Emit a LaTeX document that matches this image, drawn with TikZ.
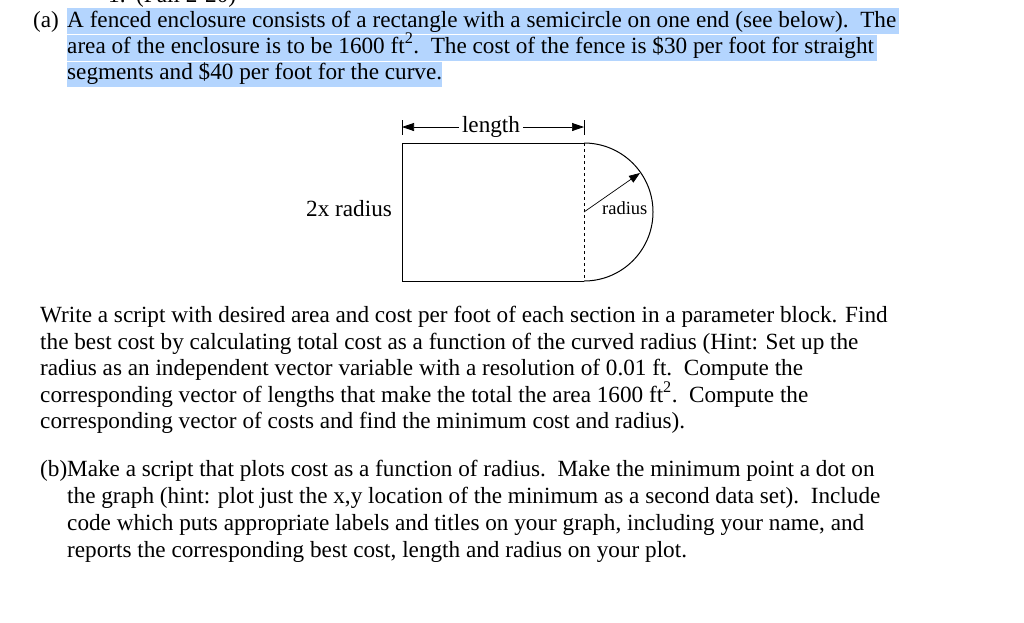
\documentclass[tikz,border=0pt]{standalone}
\usepackage{fontspec}
\setmainfont{Liberation Serif}
\usetikzlibrary{arrows.meta}
\begin{document}
\begin{tikzpicture}[x=1pt,y=-1pt,
  txt/.style={anchor=base west,inner sep=0pt,font=\fontsize{23.2}{26}\selectfont}]
\useasboundingbox (0,0) rectangle (1024,622);
\fill[color={rgb,255:red,180;green,213;blue,254}] (67,8) rectangle (899,34);
\fill[color={rgb,255:red,180;green,213;blue,254}] (67,35) rectangle (877,61);
\fill[color={rgb,255:red,180;green,213;blue,254}] (67,62) rectangle (442,87);
\begin{scope}
\clip (0,0) rectangle (1024,622);
\node[txt] (t0) at (108,2) {1.};
\node[txt] (t0b) at (136,2) {(Fall 2-20)};
\end{scope}
\node[txt] (a) at (33,27) {(a)};
\node[txt] (a1) at (67,27) {A fenced enclosure consists of a rectangle with a semicircle on one end (see below).\ \ The};
\node[txt] (a2) at (67,53) {area of the enclosure is to be 1600 ft\textsuperscript{2}.\ \ The cost of the fence is \$30 per foot for straight};
\node[txt] (a3) at (67,79) {segments and \$40 per foot for the curve.};
\node[txt] (p1) at (40,322) {Write a script with desired area and cost per foot of each section in a parameter block. Find};
\node[txt] (p2) at (40,349) {the best cost by calculating total cost as a function of the curved radius (Hint: Set up the};
\node[txt] (p3) at (40,375) {radius as an independent vector variable with a resolution of 0.01 ft.\ \ Compute the};
\node[txt] (p4) at (40,402) {corresponding vector of lengths that make the total the area 1600 ft\textsuperscript{2}.\ \ Compute the};
\node[txt] (p5) at (40,428) {corresponding vector of costs and find the minimum cost and radius).};
\node[txt] (b) at (40,476) {(b)};
\node[txt] (b1) at (67,476) {Make a script that plots cost as a function of radius.\ \ Make the minimum point a dot on};
\node[txt] (b2) at (67,503) {the graph (hint: plot just the x,y location of the minimum as a second data set).\ \ Include};
\node[txt] (b3) at (67,530) {code which puts appropriate labels and titles on your graph, including your name, and};
\node[txt] (b4) at (67,557) {reports the corresponding best cost, length and radius on your plot.};
% diagram
\coordinate (tl) at (402,143); \coordinate (br) at (584,281);
\coordinate (tr) at (584,143); \coordinate (bl) at (402,281);
\coordinate (c) at (584,212);
\coordinate (ap) at (640,173);
\draw[line width=1pt] (tr) -- (tl) -- (bl) -- (br);
\draw[line width=1pt] (tr) arc[start angle=-90,end angle=90,radius=69];
\draw[dashed,line width=0.7pt] (tr) -- (br);
\draw[line width=0.7pt,-{Triangle[length=11pt,width=8pt]}] (c) -- (ap);
\node[txt,font=\fontsize{18.5}{20}\selectfont] (rl) at (602,214) {radius};
\node[txt] (xr) at (306,216) {2x radius};
\draw[line width=0.8pt] (402,120) -- (402,135);
\draw[line width=0.8pt] (584,120) -- (584,135);
\node[inner sep=3pt,font=\fontsize{23.2}{26}\selectfont] (len) at (491,127) {length};
\draw[line width=0.7pt,-{Triangle[length=12pt,width=8pt]}] (len.west) -- (402,127);
\draw[line width=0.7pt,-{Triangle[length=12pt,width=8pt]}] (len.east) -- (584,127);
\end{tikzpicture}
\end{document}
